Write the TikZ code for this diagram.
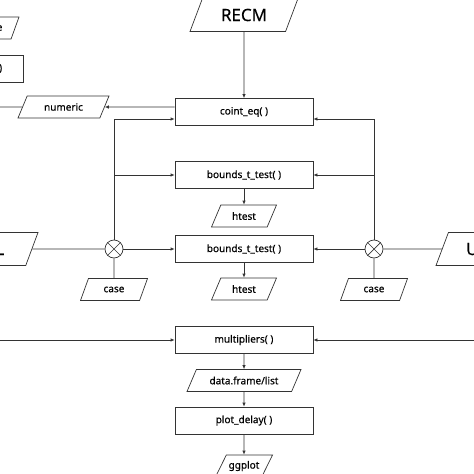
\documentclass[tikz,border=0pt]{standalone}
\usepackage{fontspec}
\setmainfont{Noto Sans}[FakeBold=0.35]
\usetikzlibrary{shapes.geometric,arrows.meta}

\begin{document}
\begin{tikzpicture}
  [x=1pt, y=-1pt, line width=.7pt, >={Latex[length=4pt,width=3.5pt]},
  fonction/.style={
    draw=black!80,
    rectangle,
    minimum width=138pt,
    minimum height=27pt,
    font=\fontsize{10}{12}\selectfont},
  donnee/.style={
    draw=black!80,
    trapezium,
    trapezium left angle=57,
    trapezium right angle=123,
    trapezium stretches body,
    minimum height=22pt,
    inner xsep=2pt,
    font=\fontsize{10}{12}\selectfont},
  grande/.style={
    donnee,
    minimum height=33pt,
    font=\fontsize{17}{20}\selectfont},
  jonction/.style={
    draw=black!80,
    circle,
    minimum size=18pt,
    inner sep=0pt}]

  \useasboundingbox (0,0) rectangle (474,474);
  \clip (0,0) rectangle (474,474);

  % fonctions
  \node [fonction, minimum width=74pt] at (-14,68.5) (recmfn) {recm( )};
  \node [fonction] at (244,112) (cointeq) {coint\_eq( )};
  \node [fonction] at (244,175) (bornes1) {bounds\_t\_test( )};
  \node [fonction] at (244,249) (bornes2) {bounds\_t\_test( )};
  \node [fonction] at (244,340) (multi) {multipliers( )};
  \node [fonction] at (244,420.5) (plotdelay) {plot\_delay( )};

  % donnees
  \node [grande, minimum width=108pt] at (244,15) (recm) {RECM};
  \node [grande, minimum width=110pt] at (-17,249) (ardl) {ARDL};
  \node [grande, minimum width=108pt] at (490,249) (uecm) {UECM};
  \node [donnee, minimum width=54pt] at (-8,28) (casetop) {case};
  \node [donnee, minimum width=91pt] at (63.5,107) (numeric) {numeric};
  \node [donnee, minimum width=65pt] at (244,216) (htest1) {htest};
  \node [donnee, minimum width=65pt] at (244,289) (htest2) {htest};
  \node [donnee, minimum width=67pt] at (114,289.5) (caseL) {case};
  \node [donnee, minimum width=67pt] at (374,289.5) (caseU) {case};
  \node [donnee, minimum width=114pt] at (244,380.5) (resultats) {data.frame/list};
  \node [donnee, minimum width=57pt] at (244,466) (ggplot) {ggplot};

  % jonctions
  \node [jonction] at (114,249) (xL) {};
  \node [jonction] at (374,249) (xU) {};
  \draw [black!80] (xL.45) -- (xL.225) (xL.135) -- (xL.315);
  \draw [black!80] (xU.45) -- (xU.225) (xU.135) -- (xU.315);

  \coordinate (sortie) at (-5,107);
  \coordinate (gauche) at (-5,340);
  \coordinate (droite) at (479,340);

  \draw [->, black!80] (recm) -- (cointeq);
  \draw [->, black!80] ([yshift=5pt]cointeq.west) -- (numeric);
  \draw [black!80] (numeric) -- (sortie);

  \draw [->, black!80] (xL.north) |- ([yshift=-7pt]cointeq.west);
  \draw [->, black!80] (xL.north |- bornes1) -- (bornes1);
  \draw [->, black!80] (xL) -- (bornes2);
  \draw [black!80] (ardl) -- (xL);
  \draw [black!80] (caseL) -- (xL);

  \draw [->, black!80] (xU.north) |- ([yshift=-7pt]cointeq.east);
  \draw [->, black!80] (xU.north |- bornes1) -- (bornes1);
  \draw [->, black!80] (xU) -- (bornes2);
  \draw [black!80] (uecm) -- (xU);
  \draw [black!80] (caseU) -- (xU);

  \draw [->, black!80] (bornes1) -- (htest1);
  \draw [->, black!80] (bornes2) -- (htest2);

  \draw [->, black!80] (gauche) -- (multi);
  \draw [->, black!80] (droite) -- (multi);
  \draw [->, black!80] (multi) -- (resultats);
  \draw [->, black!80] (resultats) -- (plotdelay);
  \draw [->, black!80] (plotdelay) -- (ggplot);
\end{tikzpicture}
\end{document}
